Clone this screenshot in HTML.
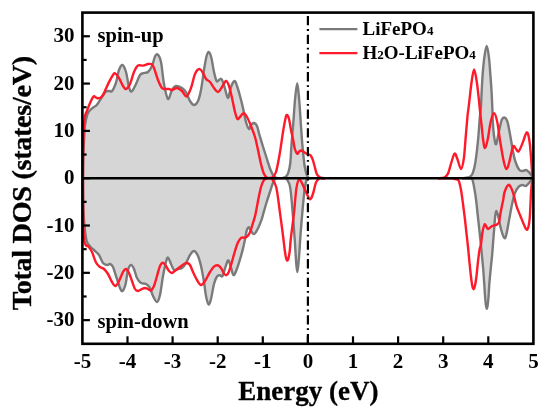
<!DOCTYPE html>
<html><head><meta charset="utf-8"><style>
html,body{margin:0;padding:0;background:#fff;}
svg{display:block;}
text{font-family:"Liberation Serif","Times New Roman",serif;font-weight:bold;fill:#000;}
</style></head><body>
<svg width="550" height="416" viewBox="0 0 550 416">
<rect x="0" y="0" width="550" height="416" fill="#fff"/>
<g>
<path d="M82.90,178.20 L82.90,178.20 C82.93,176.00 83.00,169.70 83.10,165.00 C83.20,160.30 83.32,154.67 83.50,150.00 C83.68,145.33 83.95,141.12 84.20,137.00 C84.45,132.88 84.47,129.07 85.00,125.30 C85.53,121.53 86.48,117.00 87.40,114.40 C88.32,111.80 89.47,110.88 90.50,109.70 C91.53,108.52 92.56,108.08 93.60,107.30 C94.64,106.52 95.70,106.17 96.75,105.00 C97.80,103.83 98.86,101.87 99.90,100.30 C100.94,98.73 101.98,97.07 103.00,95.60 C104.02,94.13 104.96,92.27 106.00,91.50 C107.04,90.73 108.32,91.00 109.25,91.00 C110.18,91.00 110.81,92.03 111.60,91.50 C112.39,90.97 113.22,89.45 114.00,87.80 C114.78,86.15 115.47,84.57 116.30,81.60 C117.13,78.63 117.98,72.77 119.00,70.00 C120.02,67.23 121.23,64.67 122.40,65.00 C123.57,65.33 124.90,68.33 126.00,72.00 C127.10,75.67 128.07,83.77 129.00,87.00 C129.93,90.23 130.43,91.90 131.60,91.40 C132.77,90.90 134.60,86.73 136.00,84.00 C137.40,81.27 138.67,76.83 140.00,75.00 C141.33,73.17 142.67,73.50 144.00,73.00 C145.33,72.50 146.67,73.17 148.00,72.00 C149.33,70.83 150.83,68.58 152.00,66.00 C153.17,63.42 154.03,58.40 155.00,56.50 C155.97,54.60 156.80,53.68 157.80,54.60 C158.80,55.52 159.97,57.10 161.00,62.00 C162.03,66.90 162.83,77.83 164.00,84.00 C165.17,90.17 166.67,98.00 168.00,99.00 C169.33,100.00 170.67,92.17 172.00,90.00 C173.33,87.83 174.33,86.33 176.00,86.00 C177.67,85.67 180.50,87.17 182.00,88.00 C183.50,88.83 184.17,90.00 185.00,91.00 C185.83,92.00 186.17,92.33 187.00,94.00 C187.83,95.67 188.83,99.17 190.00,101.00 C191.17,102.83 192.67,105.00 194.00,105.00 C195.33,105.00 196.83,103.50 198.00,101.00 C199.17,98.50 200.00,95.17 201.00,90.00 C202.00,84.83 203.07,75.67 204.00,70.00 C204.93,64.33 205.77,59.00 206.60,56.00 C207.43,53.00 208.20,51.67 209.00,52.00 C209.80,52.33 210.57,54.67 211.40,58.00 C212.23,61.33 213.13,68.17 214.00,72.00 C214.87,75.83 215.77,79.67 216.60,81.00 C217.43,82.33 218.20,80.33 219.00,80.00 C219.80,79.67 220.57,78.17 221.40,79.00 C222.23,79.83 223.07,82.17 224.00,85.00 C224.93,87.83 226.23,94.00 227.00,96.00 C227.77,98.00 227.93,98.50 228.60,97.00 C229.27,95.50 230.00,89.67 231.00,87.00 C232.00,84.33 233.60,81.17 234.60,81.00 C235.60,80.83 236.10,83.50 237.00,86.00 C237.90,88.50 239.00,92.33 240.00,96.00 C241.00,99.67 242.00,103.67 243.00,108.00 C244.00,112.33 245.00,118.50 246.00,122.00 C247.00,125.50 248.17,128.50 249.00,129.00 C249.83,129.50 250.17,126.00 251.00,125.00 C251.83,124.00 253.00,122.83 254.00,123.00 C255.00,123.17 256.13,124.17 257.00,126.00 C257.87,127.83 258.23,130.67 259.20,134.00 C260.17,137.33 261.57,142.00 262.80,146.00 C264.03,150.00 265.30,154.00 266.60,158.00 C267.90,162.00 269.37,166.92 270.60,170.00 C271.83,173.08 272.77,175.13 274.00,176.50 C275.23,177.87 276.33,178.02 278.00,178.20 C279.67,178.38 282.58,177.97 284.00,177.60 C285.42,177.23 285.75,176.93 286.50,176.00 C287.25,175.07 287.87,174.17 288.50,172.00 C289.13,169.83 289.78,167.80 290.30,163.00 C290.82,158.20 291.10,149.87 291.60,143.20 C292.10,136.53 292.73,130.20 293.30,123.00 C293.87,115.80 294.35,106.63 295.00,100.00 C295.65,93.37 296.50,83.20 297.20,83.20 C297.90,83.20 298.58,93.03 299.20,100.00 C299.82,106.97 300.40,117.80 300.90,125.00 C301.40,132.20 301.77,137.95 302.20,143.20 C302.63,148.45 303.07,152.53 303.50,156.50 C303.93,160.47 304.25,163.92 304.80,167.00 C305.35,170.08 306.13,173.17 306.80,175.00 C307.47,176.83 308.10,177.47 308.80,178.00 C309.50,178.53 310.63,178.17 311.00,178.20 L311.00,178.20 Z" fill="#d6d6d6" stroke="none"/>
<path d="M462.00,178.20 L462.00,178.20 C463.07,178.07 466.72,178.02 468.40,177.40 C470.08,176.78 471.02,176.57 472.10,174.50 C473.18,172.43 474.08,169.08 474.90,165.00 C475.72,160.92 476.40,155.00 477.00,150.00 C477.60,145.00 478.07,140.00 478.50,135.00 C478.93,130.00 479.20,124.62 479.60,120.00 C480.00,115.38 480.55,112.22 480.90,107.30 C481.25,102.38 481.40,96.10 481.70,90.50 C482.00,84.90 482.25,79.32 482.70,73.70 C483.15,68.08 483.73,61.43 484.40,56.80 C485.07,52.17 485.95,45.90 486.70,45.90 C487.45,45.90 488.30,52.17 488.90,56.80 C489.50,61.43 489.87,68.08 490.30,73.70 C490.73,79.32 491.17,84.90 491.50,90.50 C491.83,96.10 492.07,101.78 492.30,107.30 C492.53,112.82 492.55,118.42 492.90,123.60 C493.25,128.78 493.85,135.00 494.40,138.40 C494.95,141.80 495.43,145.23 496.20,144.00 C496.97,142.77 498.07,135.03 499.00,131.00 C499.93,126.97 500.87,122.03 501.80,119.80 C502.73,117.57 503.67,117.28 504.60,117.60 C505.53,117.92 506.48,118.85 507.40,121.70 C508.32,124.55 509.17,129.75 510.10,134.70 C511.03,139.65 512.07,146.77 513.00,151.40 C513.93,156.03 514.63,159.40 515.70,162.50 C516.77,165.60 518.17,168.60 519.40,170.00 C520.63,171.40 522.02,170.90 523.10,170.90 C524.18,170.90 524.97,169.85 525.90,170.00 C526.83,170.15 527.77,170.88 528.70,171.80 C529.63,172.72 530.72,174.43 531.50,175.50 C532.28,176.57 533.08,177.75 533.40,178.20 L533.40,178.20 Z" fill="#d6d6d6" stroke="none"/>
<path d="M82.90,178.20 L82.90,178.20 C82.93,181.00 83.00,189.37 83.10,195.00 C83.20,200.63 83.23,206.55 83.50,212.00 C83.77,217.45 84.17,222.87 84.70,227.70 C85.23,232.53 85.73,237.78 86.70,241.00 C87.67,244.22 89.28,245.50 90.50,247.00 C91.72,248.50 92.58,248.67 94.00,250.00 C95.42,251.33 97.50,252.83 99.00,255.00 C100.50,257.17 101.67,261.33 103.00,263.00 C104.33,264.67 105.83,264.83 107.00,265.00 C108.17,265.17 109.00,263.67 110.00,264.00 C111.00,264.33 112.00,265.00 113.00,267.00 C114.00,269.00 114.83,272.50 116.00,276.00 C117.17,279.50 118.90,285.50 120.00,288.00 C121.10,290.50 121.67,291.67 122.60,291.00 C123.53,290.33 124.70,287.50 125.60,284.00 C126.50,280.50 127.10,273.17 128.00,270.00 C128.90,266.83 130.00,265.17 131.00,265.00 C132.00,264.83 133.00,266.83 134.00,269.00 C135.00,271.17 135.83,275.67 137.00,278.00 C138.17,280.33 139.50,282.00 141.00,283.00 C142.50,284.00 144.50,283.17 146.00,284.00 C147.50,284.83 148.83,286.00 150.00,288.00 C151.17,290.00 151.83,293.67 153.00,296.00 C154.17,298.33 155.83,302.17 157.00,302.00 C158.17,301.83 159.00,299.33 160.00,295.00 C161.00,290.67 162.00,281.50 163.00,276.00 C164.00,270.50 165.17,265.08 166.00,262.00 C166.83,258.92 167.17,257.17 168.00,257.50 C168.83,257.83 170.00,261.92 171.00,264.00 C172.00,266.08 172.83,269.17 174.00,270.00 C175.17,270.83 176.67,269.33 178.00,269.00 C179.33,268.67 180.67,269.00 182.00,268.00 C183.33,267.00 184.67,265.17 186.00,263.00 C187.33,260.83 188.67,257.00 190.00,255.00 C191.33,253.00 192.67,250.83 194.00,251.00 C195.33,251.17 196.83,253.50 198.00,256.00 C199.17,258.50 200.00,261.67 201.00,266.00 C202.00,270.33 203.17,277.00 204.00,282.00 C204.83,287.00 205.23,292.27 206.00,296.00 C206.77,299.73 207.77,303.90 208.60,304.40 C209.43,304.90 210.10,302.40 211.00,299.00 C211.90,295.60 213.00,287.75 214.00,284.00 C215.00,280.25 216.00,277.95 217.00,276.50 C218.00,275.05 219.08,275.38 220.00,275.30 C220.92,275.22 221.57,277.45 222.50,276.00 C223.43,274.55 224.68,269.22 225.60,266.60 C226.52,263.98 227.22,260.57 228.00,260.30 C228.78,260.03 229.52,262.78 230.30,265.00 C231.08,267.22 232.05,271.97 232.70,273.60 C233.35,275.23 233.55,275.45 234.20,274.80 C234.85,274.15 235.68,272.12 236.60,269.70 C237.52,267.28 238.67,263.68 239.70,260.30 C240.73,256.92 241.88,253.05 242.80,249.40 C243.72,245.75 244.55,241.53 245.20,238.40 C245.85,235.27 246.10,232.47 246.70,230.60 C247.30,228.73 248.15,227.33 248.80,227.20 C249.45,227.07 249.90,228.70 250.60,229.80 C251.30,230.90 252.22,233.27 253.00,233.80 C253.78,234.33 254.40,234.05 255.30,233.00 C256.20,231.95 257.35,229.72 258.40,227.50 C259.45,225.28 260.80,221.95 261.60,219.70 C262.40,217.45 262.40,216.78 263.20,214.00 C264.00,211.22 265.33,206.50 266.40,203.00 C267.47,199.50 268.50,196.33 269.60,193.00 C270.70,189.67 271.93,185.40 273.00,183.00 C274.07,180.60 274.17,179.38 276.00,178.60 C277.83,177.82 282.17,178.15 284.00,178.30 C285.83,178.45 285.97,177.95 287.00,179.50 C288.03,181.05 289.25,182.03 290.20,187.60 C291.15,193.17 291.97,204.50 292.70,212.90 C293.43,221.30 294.13,231.48 294.60,238.00 C295.07,244.52 295.22,247.67 295.50,252.00 C295.78,256.33 296.00,260.67 296.30,264.00 C296.60,267.33 296.95,272.00 297.30,272.00 C297.65,272.00 298.05,267.33 298.40,264.00 C298.75,260.67 299.08,256.33 299.40,252.00 C299.72,247.67 299.82,244.52 300.30,238.00 C300.78,231.48 301.55,221.30 302.30,212.90 C303.05,204.50 304.02,193.25 304.80,187.60 C305.58,181.95 306.30,180.57 307.00,179.00 C307.70,177.43 308.67,178.33 309.00,178.20 L309.00,178.20 Z" fill="#d6d6d6" stroke="none"/>
<path d="M462.00,178.20 L462.00,178.20 C463.53,178.27 469.37,177.97 471.20,178.60 C473.03,179.23 472.45,180.20 473.00,182.00 C473.55,183.80 473.98,186.40 474.50,189.40 C475.02,192.40 475.60,196.07 476.10,200.00 C476.60,203.93 477.00,208.40 477.50,213.00 C478.00,217.60 478.60,222.93 479.10,227.60 C479.60,232.27 480.03,236.38 480.50,241.00 C480.97,245.62 481.45,250.63 481.90,255.30 C482.35,259.97 482.82,264.38 483.20,269.00 C483.58,273.62 483.88,278.33 484.20,283.00 C484.52,287.67 484.82,293.33 485.10,297.00 C485.38,300.67 485.62,303.03 485.90,305.00 C486.18,306.97 486.50,308.80 486.80,308.80 C487.10,308.80 487.42,306.97 487.70,305.00 C487.98,303.03 488.22,300.67 488.50,297.00 C488.78,293.33 489.03,287.67 489.40,283.00 C489.77,278.33 490.25,273.62 490.70,269.00 C491.15,264.38 491.68,259.97 492.10,255.30 C492.52,250.63 492.83,245.62 493.20,241.00 C493.57,236.38 493.97,231.77 494.30,227.60 C494.63,223.43 494.87,218.77 495.20,216.00 C495.53,213.23 495.82,211.05 496.30,211.00 C496.78,210.95 497.33,212.75 498.10,215.70 C498.87,218.65 499.87,224.98 500.90,228.70 C501.93,232.42 503.38,237.08 504.30,238.00 C505.22,238.92 505.58,237.30 506.40,234.20 C507.22,231.10 508.27,224.35 509.20,219.40 C510.13,214.45 511.07,208.83 512.00,204.50 C512.93,200.17 513.72,196.33 514.80,193.40 C515.88,190.47 517.27,188.30 518.50,186.90 C519.73,185.50 520.97,185.15 522.20,185.00 C523.43,184.85 524.67,186.45 525.90,186.00 C527.13,185.55 528.67,183.38 529.60,182.30 C530.53,181.22 530.87,180.18 531.50,179.50 C532.13,178.82 533.08,178.42 533.40,178.20 L533.40,178.20 Z" fill="#d6d6d6" stroke="none"/>
<path d="M82.90,178.20 C82.93,176.00 83.00,169.70 83.10,165.00 C83.20,160.30 83.32,154.67 83.50,150.00 C83.68,145.33 83.95,141.12 84.20,137.00 C84.45,132.88 84.47,129.07 85.00,125.30 C85.53,121.53 86.48,117.00 87.40,114.40 C88.32,111.80 89.47,110.88 90.50,109.70 C91.53,108.52 92.56,108.08 93.60,107.30 C94.64,106.52 95.70,106.17 96.75,105.00 C97.80,103.83 98.86,101.87 99.90,100.30 C100.94,98.73 101.98,97.07 103.00,95.60 C104.02,94.13 104.96,92.27 106.00,91.50 C107.04,90.73 108.32,91.00 109.25,91.00 C110.18,91.00 110.81,92.03 111.60,91.50 C112.39,90.97 113.22,89.45 114.00,87.80 C114.78,86.15 115.47,84.57 116.30,81.60 C117.13,78.63 117.98,72.77 119.00,70.00 C120.02,67.23 121.23,64.67 122.40,65.00 C123.57,65.33 124.90,68.33 126.00,72.00 C127.10,75.67 128.07,83.77 129.00,87.00 C129.93,90.23 130.43,91.90 131.60,91.40 C132.77,90.90 134.60,86.73 136.00,84.00 C137.40,81.27 138.67,76.83 140.00,75.00 C141.33,73.17 142.67,73.50 144.00,73.00 C145.33,72.50 146.67,73.17 148.00,72.00 C149.33,70.83 150.83,68.58 152.00,66.00 C153.17,63.42 154.03,58.40 155.00,56.50 C155.97,54.60 156.80,53.68 157.80,54.60 C158.80,55.52 159.97,57.10 161.00,62.00 C162.03,66.90 162.83,77.83 164.00,84.00 C165.17,90.17 166.67,98.00 168.00,99.00 C169.33,100.00 170.67,92.17 172.00,90.00 C173.33,87.83 174.33,86.33 176.00,86.00 C177.67,85.67 180.50,87.17 182.00,88.00 C183.50,88.83 184.17,90.00 185.00,91.00 C185.83,92.00 186.17,92.33 187.00,94.00 C187.83,95.67 188.83,99.17 190.00,101.00 C191.17,102.83 192.67,105.00 194.00,105.00 C195.33,105.00 196.83,103.50 198.00,101.00 C199.17,98.50 200.00,95.17 201.00,90.00 C202.00,84.83 203.07,75.67 204.00,70.00 C204.93,64.33 205.77,59.00 206.60,56.00 C207.43,53.00 208.20,51.67 209.00,52.00 C209.80,52.33 210.57,54.67 211.40,58.00 C212.23,61.33 213.13,68.17 214.00,72.00 C214.87,75.83 215.77,79.67 216.60,81.00 C217.43,82.33 218.20,80.33 219.00,80.00 C219.80,79.67 220.57,78.17 221.40,79.00 C222.23,79.83 223.07,82.17 224.00,85.00 C224.93,87.83 226.23,94.00 227.00,96.00 C227.77,98.00 227.93,98.50 228.60,97.00 C229.27,95.50 230.00,89.67 231.00,87.00 C232.00,84.33 233.60,81.17 234.60,81.00 C235.60,80.83 236.10,83.50 237.00,86.00 C237.90,88.50 239.00,92.33 240.00,96.00 C241.00,99.67 242.00,103.67 243.00,108.00 C244.00,112.33 245.00,118.50 246.00,122.00 C247.00,125.50 248.17,128.50 249.00,129.00 C249.83,129.50 250.17,126.00 251.00,125.00 C251.83,124.00 253.00,122.83 254.00,123.00 C255.00,123.17 256.13,124.17 257.00,126.00 C257.87,127.83 258.23,130.67 259.20,134.00 C260.17,137.33 261.57,142.00 262.80,146.00 C264.03,150.00 265.30,154.00 266.60,158.00 C267.90,162.00 269.37,166.92 270.60,170.00 C271.83,173.08 272.77,175.13 274.00,176.50 C275.23,177.87 276.33,178.02 278.00,178.20 C279.67,178.38 282.58,177.97 284.00,177.60 C285.42,177.23 285.75,176.93 286.50,176.00 C287.25,175.07 287.87,174.17 288.50,172.00 C289.13,169.83 289.78,167.80 290.30,163.00 C290.82,158.20 291.10,149.87 291.60,143.20 C292.10,136.53 292.73,130.20 293.30,123.00 C293.87,115.80 294.35,106.63 295.00,100.00 C295.65,93.37 296.50,83.20 297.20,83.20 C297.90,83.20 298.58,93.03 299.20,100.00 C299.82,106.97 300.40,117.80 300.90,125.00 C301.40,132.20 301.77,137.95 302.20,143.20 C302.63,148.45 303.07,152.53 303.50,156.50 C303.93,160.47 304.25,163.92 304.80,167.00 C305.35,170.08 306.13,173.17 306.80,175.00 C307.47,176.83 308.10,177.47 308.80,178.00 C309.50,178.53 310.63,178.17 311.00,178.20" fill="none" stroke="#7a7a7a" stroke-width="2.4" stroke-linejoin="round"/>
<path d="M462.00,178.20 C463.07,178.07 466.72,178.02 468.40,177.40 C470.08,176.78 471.02,176.57 472.10,174.50 C473.18,172.43 474.08,169.08 474.90,165.00 C475.72,160.92 476.40,155.00 477.00,150.00 C477.60,145.00 478.07,140.00 478.50,135.00 C478.93,130.00 479.20,124.62 479.60,120.00 C480.00,115.38 480.55,112.22 480.90,107.30 C481.25,102.38 481.40,96.10 481.70,90.50 C482.00,84.90 482.25,79.32 482.70,73.70 C483.15,68.08 483.73,61.43 484.40,56.80 C485.07,52.17 485.95,45.90 486.70,45.90 C487.45,45.90 488.30,52.17 488.90,56.80 C489.50,61.43 489.87,68.08 490.30,73.70 C490.73,79.32 491.17,84.90 491.50,90.50 C491.83,96.10 492.07,101.78 492.30,107.30 C492.53,112.82 492.55,118.42 492.90,123.60 C493.25,128.78 493.85,135.00 494.40,138.40 C494.95,141.80 495.43,145.23 496.20,144.00 C496.97,142.77 498.07,135.03 499.00,131.00 C499.93,126.97 500.87,122.03 501.80,119.80 C502.73,117.57 503.67,117.28 504.60,117.60 C505.53,117.92 506.48,118.85 507.40,121.70 C508.32,124.55 509.17,129.75 510.10,134.70 C511.03,139.65 512.07,146.77 513.00,151.40 C513.93,156.03 514.63,159.40 515.70,162.50 C516.77,165.60 518.17,168.60 519.40,170.00 C520.63,171.40 522.02,170.90 523.10,170.90 C524.18,170.90 524.97,169.85 525.90,170.00 C526.83,170.15 527.77,170.88 528.70,171.80 C529.63,172.72 530.72,174.43 531.50,175.50 C532.28,176.57 533.08,177.75 533.40,178.20" fill="none" stroke="#7a7a7a" stroke-width="2.4" stroke-linejoin="round"/>
<path d="M82.90,178.20 C82.93,181.00 83.00,189.37 83.10,195.00 C83.20,200.63 83.23,206.55 83.50,212.00 C83.77,217.45 84.17,222.87 84.70,227.70 C85.23,232.53 85.73,237.78 86.70,241.00 C87.67,244.22 89.28,245.50 90.50,247.00 C91.72,248.50 92.58,248.67 94.00,250.00 C95.42,251.33 97.50,252.83 99.00,255.00 C100.50,257.17 101.67,261.33 103.00,263.00 C104.33,264.67 105.83,264.83 107.00,265.00 C108.17,265.17 109.00,263.67 110.00,264.00 C111.00,264.33 112.00,265.00 113.00,267.00 C114.00,269.00 114.83,272.50 116.00,276.00 C117.17,279.50 118.90,285.50 120.00,288.00 C121.10,290.50 121.67,291.67 122.60,291.00 C123.53,290.33 124.70,287.50 125.60,284.00 C126.50,280.50 127.10,273.17 128.00,270.00 C128.90,266.83 130.00,265.17 131.00,265.00 C132.00,264.83 133.00,266.83 134.00,269.00 C135.00,271.17 135.83,275.67 137.00,278.00 C138.17,280.33 139.50,282.00 141.00,283.00 C142.50,284.00 144.50,283.17 146.00,284.00 C147.50,284.83 148.83,286.00 150.00,288.00 C151.17,290.00 151.83,293.67 153.00,296.00 C154.17,298.33 155.83,302.17 157.00,302.00 C158.17,301.83 159.00,299.33 160.00,295.00 C161.00,290.67 162.00,281.50 163.00,276.00 C164.00,270.50 165.17,265.08 166.00,262.00 C166.83,258.92 167.17,257.17 168.00,257.50 C168.83,257.83 170.00,261.92 171.00,264.00 C172.00,266.08 172.83,269.17 174.00,270.00 C175.17,270.83 176.67,269.33 178.00,269.00 C179.33,268.67 180.67,269.00 182.00,268.00 C183.33,267.00 184.67,265.17 186.00,263.00 C187.33,260.83 188.67,257.00 190.00,255.00 C191.33,253.00 192.67,250.83 194.00,251.00 C195.33,251.17 196.83,253.50 198.00,256.00 C199.17,258.50 200.00,261.67 201.00,266.00 C202.00,270.33 203.17,277.00 204.00,282.00 C204.83,287.00 205.23,292.27 206.00,296.00 C206.77,299.73 207.77,303.90 208.60,304.40 C209.43,304.90 210.10,302.40 211.00,299.00 C211.90,295.60 213.00,287.75 214.00,284.00 C215.00,280.25 216.00,277.95 217.00,276.50 C218.00,275.05 219.08,275.38 220.00,275.30 C220.92,275.22 221.57,277.45 222.50,276.00 C223.43,274.55 224.68,269.22 225.60,266.60 C226.52,263.98 227.22,260.57 228.00,260.30 C228.78,260.03 229.52,262.78 230.30,265.00 C231.08,267.22 232.05,271.97 232.70,273.60 C233.35,275.23 233.55,275.45 234.20,274.80 C234.85,274.15 235.68,272.12 236.60,269.70 C237.52,267.28 238.67,263.68 239.70,260.30 C240.73,256.92 241.88,253.05 242.80,249.40 C243.72,245.75 244.55,241.53 245.20,238.40 C245.85,235.27 246.10,232.47 246.70,230.60 C247.30,228.73 248.15,227.33 248.80,227.20 C249.45,227.07 249.90,228.70 250.60,229.80 C251.30,230.90 252.22,233.27 253.00,233.80 C253.78,234.33 254.40,234.05 255.30,233.00 C256.20,231.95 257.35,229.72 258.40,227.50 C259.45,225.28 260.80,221.95 261.60,219.70 C262.40,217.45 262.40,216.78 263.20,214.00 C264.00,211.22 265.33,206.50 266.40,203.00 C267.47,199.50 268.50,196.33 269.60,193.00 C270.70,189.67 271.93,185.40 273.00,183.00 C274.07,180.60 274.17,179.38 276.00,178.60 C277.83,177.82 282.17,178.15 284.00,178.30 C285.83,178.45 285.97,177.95 287.00,179.50 C288.03,181.05 289.25,182.03 290.20,187.60 C291.15,193.17 291.97,204.50 292.70,212.90 C293.43,221.30 294.13,231.48 294.60,238.00 C295.07,244.52 295.22,247.67 295.50,252.00 C295.78,256.33 296.00,260.67 296.30,264.00 C296.60,267.33 296.95,272.00 297.30,272.00 C297.65,272.00 298.05,267.33 298.40,264.00 C298.75,260.67 299.08,256.33 299.40,252.00 C299.72,247.67 299.82,244.52 300.30,238.00 C300.78,231.48 301.55,221.30 302.30,212.90 C303.05,204.50 304.02,193.25 304.80,187.60 C305.58,181.95 306.30,180.57 307.00,179.00 C307.70,177.43 308.67,178.33 309.00,178.20" fill="none" stroke="#7a7a7a" stroke-width="2.4" stroke-linejoin="round"/>
<path d="M462.00,178.20 C463.53,178.27 469.37,177.97 471.20,178.60 C473.03,179.23 472.45,180.20 473.00,182.00 C473.55,183.80 473.98,186.40 474.50,189.40 C475.02,192.40 475.60,196.07 476.10,200.00 C476.60,203.93 477.00,208.40 477.50,213.00 C478.00,217.60 478.60,222.93 479.10,227.60 C479.60,232.27 480.03,236.38 480.50,241.00 C480.97,245.62 481.45,250.63 481.90,255.30 C482.35,259.97 482.82,264.38 483.20,269.00 C483.58,273.62 483.88,278.33 484.20,283.00 C484.52,287.67 484.82,293.33 485.10,297.00 C485.38,300.67 485.62,303.03 485.90,305.00 C486.18,306.97 486.50,308.80 486.80,308.80 C487.10,308.80 487.42,306.97 487.70,305.00 C487.98,303.03 488.22,300.67 488.50,297.00 C488.78,293.33 489.03,287.67 489.40,283.00 C489.77,278.33 490.25,273.62 490.70,269.00 C491.15,264.38 491.68,259.97 492.10,255.30 C492.52,250.63 492.83,245.62 493.20,241.00 C493.57,236.38 493.97,231.77 494.30,227.60 C494.63,223.43 494.87,218.77 495.20,216.00 C495.53,213.23 495.82,211.05 496.30,211.00 C496.78,210.95 497.33,212.75 498.10,215.70 C498.87,218.65 499.87,224.98 500.90,228.70 C501.93,232.42 503.38,237.08 504.30,238.00 C505.22,238.92 505.58,237.30 506.40,234.20 C507.22,231.10 508.27,224.35 509.20,219.40 C510.13,214.45 511.07,208.83 512.00,204.50 C512.93,200.17 513.72,196.33 514.80,193.40 C515.88,190.47 517.27,188.30 518.50,186.90 C519.73,185.50 520.97,185.15 522.20,185.00 C523.43,184.85 524.67,186.45 525.90,186.00 C527.13,185.55 528.67,183.38 529.60,182.30 C530.53,181.22 530.87,180.18 531.50,179.50 C532.13,178.82 533.08,178.42 533.40,178.20" fill="none" stroke="#7a7a7a" stroke-width="2.4" stroke-linejoin="round"/>
<path d="M83.00,178.20 C83.02,175.17 83.03,165.95 83.10,160.00 C83.17,154.05 83.25,148.54 83.40,142.50 C83.55,136.46 83.73,128.17 84.00,123.75 C84.27,119.33 84.43,118.34 85.00,116.00 C85.57,113.66 86.48,112.05 87.40,109.70 C88.32,107.35 89.47,104.12 90.50,101.90 C91.53,99.68 92.56,97.05 93.60,96.40 C94.64,95.75 95.70,97.73 96.75,98.00 C97.80,98.27 98.86,98.53 99.90,98.00 C100.94,97.47 101.98,96.37 103.00,94.80 C104.02,93.23 104.96,90.80 106.00,88.60 C107.04,86.40 108.08,83.87 109.25,81.60 C110.42,79.33 112.04,76.37 113.00,75.00 C113.96,73.63 114.00,72.90 115.00,73.40 C116.00,73.90 117.67,75.90 119.00,78.00 C120.33,80.10 121.83,84.17 123.00,86.00 C124.17,87.83 124.83,89.33 126.00,89.00 C127.17,88.67 128.67,86.83 130.00,84.00 C131.33,81.17 132.67,75.07 134.00,72.00 C135.33,68.93 136.50,66.67 138.00,65.60 C139.50,64.53 141.33,65.87 143.00,65.60 C144.67,65.33 146.53,64.22 148.00,64.00 C149.47,63.78 150.80,63.63 151.80,64.30 C152.80,64.97 152.97,65.38 154.00,68.00 C155.03,70.62 156.67,76.67 158.00,80.00 C159.33,83.33 160.83,86.50 162.00,88.00 C163.17,89.50 163.83,88.83 165.00,89.00 C166.17,89.17 167.83,88.83 169.00,89.00 C170.17,89.17 170.67,90.17 172.00,90.00 C173.33,89.83 175.33,87.83 177.00,88.00 C178.67,88.17 180.42,89.58 182.00,91.00 C183.58,92.42 185.00,97.00 186.50,96.50 C188.00,96.00 189.58,91.75 191.00,88.00 C192.42,84.25 193.60,77.17 195.00,74.00 C196.40,70.83 198.07,69.17 199.40,69.00 C200.73,68.83 201.90,71.33 203.00,73.00 C204.10,74.67 204.83,77.50 206.00,79.00 C207.17,80.50 208.67,80.50 210.00,82.00 C211.33,83.50 212.67,86.33 214.00,88.00 C215.33,89.67 216.67,92.17 218.00,92.00 C219.33,91.83 220.67,88.83 222.00,87.00 C223.33,85.17 224.83,81.17 226.00,81.00 C227.17,80.83 228.00,83.17 229.00,86.00 C230.00,88.83 231.00,93.67 232.00,98.00 C233.00,102.33 234.10,108.50 235.00,112.00 C235.90,115.50 236.57,118.17 237.40,119.00 C238.23,119.83 238.98,117.95 240.00,117.00 C241.02,116.05 242.33,113.30 243.50,113.30 C244.67,113.30 245.75,114.88 247.00,117.00 C248.25,119.12 249.67,122.67 251.00,126.00 C252.33,129.33 253.83,133.00 255.00,137.00 C256.17,141.00 257.00,145.50 258.00,150.00 C259.00,154.50 260.00,160.00 261.00,164.00 C262.00,168.00 263.00,171.75 264.00,174.00 C265.00,176.25 265.67,176.92 267.00,177.50 C268.33,178.08 270.50,178.42 272.00,177.50 C273.50,176.58 274.67,176.25 276.00,172.00 C277.33,167.75 278.83,158.67 280.00,152.00 C281.17,145.33 282.07,137.67 283.00,132.00 C283.93,126.33 284.93,120.83 285.60,118.00 C286.27,115.17 286.43,114.83 287.00,115.00 C287.57,115.17 288.33,116.50 289.00,119.00 C289.67,121.50 290.33,126.62 291.00,130.00 C291.67,133.38 292.35,136.10 293.00,139.30 C293.65,142.50 294.20,146.78 294.90,149.20 C295.60,151.62 296.53,153.37 297.20,153.80 C297.87,154.23 298.25,152.35 298.90,151.80 C299.55,151.25 300.33,150.50 301.10,150.50 C301.87,150.50 302.65,151.30 303.50,151.80 C304.35,152.30 305.32,153.05 306.20,153.50 C307.08,153.95 308.03,154.12 308.80,154.50 C309.57,154.88 310.13,154.92 310.80,155.80 C311.47,156.68 312.13,157.93 312.80,159.80 C313.47,161.67 314.15,164.68 314.80,167.00 C315.45,169.32 315.93,172.03 316.70,173.70 C317.47,175.37 318.52,176.28 319.40,177.00 C320.28,177.72 321.07,177.80 322.00,178.00 C322.93,178.20 324.50,178.17 325.00,178.20" fill="none" stroke="#ff1a2a" stroke-width="2.4" stroke-linejoin="round"/>
<path d="M438.00,178.20 C439.05,178.08 442.63,178.27 444.30,177.50 C445.97,176.73 446.92,175.78 448.00,173.60 C449.08,171.42 449.72,167.73 450.80,164.40 C451.88,161.07 453.42,154.53 454.50,153.60 C455.58,152.67 456.22,156.23 457.30,158.80 C458.38,161.37 459.92,169.00 461.00,169.00 C462.08,169.00 463.03,163.90 463.80,158.80 C464.57,153.70 464.98,145.53 465.60,138.40 C466.22,131.27 467.03,120.90 467.50,116.00 C467.97,111.10 468.05,111.85 468.40,109.00 C468.75,106.15 469.07,103.40 469.60,98.90 C470.13,94.40 470.85,86.90 471.60,82.00 C472.35,77.10 473.23,69.50 474.10,69.50 C474.97,69.50 476.02,77.10 476.80,82.00 C477.58,86.90 478.30,94.40 478.80,98.90 C479.30,103.40 479.37,104.88 479.80,109.00 C480.23,113.12 480.83,118.38 481.40,123.60 C481.97,128.82 482.58,136.23 483.20,140.30 C483.82,144.37 484.32,148.32 485.10,148.00 C485.88,147.68 486.97,142.78 487.90,138.40 C488.83,134.02 489.68,125.88 490.70,121.70 C491.72,117.52 492.92,113.30 494.00,113.30 C495.08,113.30 496.20,117.20 497.20,121.70 C498.20,126.20 498.93,133.80 500.00,140.30 C501.07,146.80 502.53,155.92 503.60,160.70 C504.67,165.48 505.47,168.70 506.40,169.00 C507.33,169.30 508.10,166.22 509.20,162.50 C510.30,158.78 511.92,149.02 513.00,146.70 C514.08,144.38 514.78,147.82 515.70,148.60 C516.62,149.38 517.42,152.17 518.50,151.40 C519.58,150.63 520.82,147.15 522.20,144.00 C523.58,140.85 525.57,132.83 526.80,132.50 C528.03,132.17 528.82,136.75 529.60,142.00 C530.38,147.25 531.03,158.17 531.50,164.00 C531.97,169.83 532.08,174.63 532.40,177.00 C532.72,179.37 533.23,178.00 533.40,178.20" fill="none" stroke="#ff1a2a" stroke-width="2.4" stroke-linejoin="round"/>
<path d="M83.00,178.20 C83.02,181.83 83.03,192.20 83.10,200.00 C83.17,207.80 83.25,218.67 83.40,225.00 C83.55,231.33 83.73,234.92 84.00,238.00 C84.27,241.08 84.55,242.17 85.00,243.50 C85.45,244.83 86.20,245.58 86.70,246.00 C87.20,246.42 87.12,245.00 88.00,246.00 C88.88,247.00 90.67,249.25 92.00,252.00 C93.33,254.75 94.67,260.00 96.00,262.50 C97.33,265.00 98.67,265.92 100.00,267.00 C101.33,268.08 102.67,267.83 104.00,269.00 C105.33,270.17 106.67,271.83 108.00,274.00 C109.33,276.17 110.73,280.00 112.00,282.00 C113.27,284.00 114.43,286.17 115.60,286.00 C116.77,285.83 117.77,283.33 119.00,281.00 C120.23,278.67 121.83,274.00 123.00,272.00 C124.17,270.00 125.00,268.83 126.00,269.00 C127.00,269.17 128.00,271.00 129.00,273.00 C130.00,275.00 131.00,278.33 132.00,281.00 C133.00,283.67 134.00,287.33 135.00,289.00 C136.00,290.67 136.83,291.00 138.00,291.00 C139.17,291.00 140.83,289.50 142.00,289.00 C143.17,288.50 144.00,288.00 145.00,288.00 C146.00,288.00 147.00,288.60 148.00,289.00 C149.00,289.40 150.00,290.90 151.00,290.40 C152.00,289.90 153.00,288.40 154.00,286.00 C155.00,283.60 156.00,279.33 157.00,276.00 C158.00,272.67 159.00,268.20 160.00,266.00 C161.00,263.80 162.00,262.80 163.00,262.80 C164.00,262.80 165.00,264.63 166.00,266.00 C167.00,267.37 168.00,269.83 169.00,271.00 C170.00,272.17 170.83,273.17 172.00,273.00 C173.17,272.83 174.67,271.00 176.00,270.00 C177.33,269.00 178.67,268.00 180.00,267.00 C181.33,266.00 182.83,264.67 184.00,264.00 C185.17,263.33 186.00,262.83 187.00,263.00 C188.00,263.17 189.00,263.50 190.00,265.00 C191.00,266.50 191.83,269.50 193.00,272.00 C194.17,274.50 195.67,277.83 197.00,280.00 C198.33,282.17 199.67,284.83 201.00,285.00 C202.33,285.17 203.50,283.17 205.00,281.00 C206.50,278.83 208.52,274.40 210.00,272.00 C211.48,269.60 212.60,267.72 213.90,266.60 C215.20,265.48 216.62,265.07 217.80,265.30 C218.98,265.53 219.97,266.62 221.00,268.00 C222.03,269.38 223.10,272.40 224.00,273.60 C224.90,274.80 225.60,275.47 226.40,275.20 C227.20,274.93 227.88,274.22 228.80,272.00 C229.72,269.78 230.87,265.40 231.90,261.90 C232.93,258.40 233.98,254.27 235.00,251.00 C236.02,247.73 236.95,244.52 238.00,242.30 C239.05,240.08 240.10,238.47 241.30,237.70 C242.50,236.93 244.03,238.10 245.20,237.70 C246.37,237.30 247.40,236.48 248.30,235.30 C249.20,234.12 249.82,232.68 250.60,230.60 C251.38,228.52 252.22,225.40 253.00,222.80 C253.78,220.20 254.47,218.63 255.30,215.00 C256.13,211.37 257.05,205.67 258.00,201.00 C258.95,196.33 260.00,190.50 261.00,187.00 C262.00,183.50 262.83,181.45 264.00,180.00 C265.17,178.55 266.67,178.47 268.00,178.30 C269.33,178.13 270.62,177.45 272.00,179.00 C273.38,180.55 274.97,181.95 276.30,187.60 C277.63,193.25 278.83,204.50 280.00,212.90 C281.17,221.30 282.50,231.73 283.30,238.00 C284.10,244.27 284.35,247.23 284.80,250.50 C285.25,253.77 285.58,255.92 286.00,257.60 C286.42,259.28 286.87,260.60 287.30,260.60 C287.73,260.60 288.18,259.28 288.60,257.60 C289.02,255.92 289.42,253.77 289.80,250.50 C290.18,247.23 290.20,244.27 290.90,238.00 C291.60,231.73 293.07,221.30 294.00,212.90 C294.93,204.50 295.58,193.17 296.50,187.60 C297.42,182.03 298.25,179.50 299.50,179.50 C300.75,179.50 302.32,184.35 304.00,187.60 C305.68,190.85 308.12,197.93 309.60,199.00 C311.08,200.07 311.85,196.73 312.90,194.00 C313.95,191.27 314.85,185.17 315.90,182.60 C316.95,180.03 318.18,179.33 319.20,178.60 C320.22,177.87 321.03,178.27 322.00,178.20 C322.97,178.13 324.50,178.20 325.00,178.20" fill="none" stroke="#ff1a2a" stroke-width="2.4" stroke-linejoin="round"/>
<path d="M438.00,178.20 C440.33,178.23 449.08,178.23 452.00,178.40 C454.92,178.57 454.38,178.80 455.50,179.20 C456.62,179.60 457.78,179.00 458.70,180.80 C459.62,182.60 460.28,186.17 461.00,190.00 C461.72,193.83 462.37,199.13 463.00,203.80 C463.63,208.47 464.23,213.18 464.80,218.00 C465.37,222.82 465.87,227.87 466.40,232.70 C466.93,237.53 467.50,242.20 468.00,247.00 C468.50,251.80 468.92,256.67 469.40,261.50 C469.88,266.33 470.43,272.00 470.90,276.00 C471.37,280.00 471.75,283.30 472.20,285.50 C472.65,287.70 473.13,289.20 473.60,289.20 C474.07,289.20 474.52,287.70 475.00,285.50 C475.48,283.30 476.00,280.00 476.50,276.00 C477.00,272.00 477.50,265.83 478.00,261.50 C478.50,257.17 479.00,252.88 479.50,250.00 C480.00,247.12 480.50,247.20 481.00,244.20 C481.50,241.20 481.90,235.28 482.50,232.00 C483.10,228.72 484.02,225.50 484.60,224.50 C485.18,223.50 485.43,225.25 486.00,226.00 C486.57,226.75 487.22,228.83 488.00,229.00 C488.78,229.17 489.80,227.58 490.70,227.00 C491.60,226.42 492.47,225.85 493.40,225.50 C494.33,225.15 495.37,225.45 496.30,224.90 C497.23,224.35 498.32,224.05 499.00,222.20 C499.68,220.35 499.93,216.43 500.40,213.80 C500.87,211.17 501.33,208.70 501.80,206.40 C502.27,204.10 502.73,202.40 503.20,200.00 C503.67,197.60 503.75,194.50 504.60,192.00 C505.45,189.50 507.22,185.70 508.30,185.00 C509.38,184.30 510.18,186.08 511.10,187.80 C512.02,189.52 512.88,192.20 513.80,195.30 C514.72,198.40 515.52,203.00 516.60,206.40 C517.68,209.80 519.05,212.60 520.30,215.70 C521.55,218.80 522.95,222.68 524.10,225.00 C525.25,227.32 526.28,230.53 527.20,229.60 C528.12,228.67 528.95,225.73 529.60,219.40 C530.25,213.07 530.63,198.25 531.10,191.60 C531.57,184.95 532.02,181.73 532.40,179.50 C532.78,177.27 533.23,178.42 533.40,178.20" fill="none" stroke="#ff1a2a" stroke-width="2.4" stroke-linejoin="round"/>
</g>
<line x1="82.4" y1="178.2" x2="533.4" y2="178.2" stroke="#000" stroke-width="2.6"/>
<line x1="307.9" y1="16" x2="307.9" y2="343.8" stroke="#000" stroke-width="2.2" stroke-dasharray="9.3 3.8 1.8 3.8"/>
<g stroke="#000" stroke-width="2.2">
<line x1="82.40" y1="320.14" x2="89.90" y2="320.14"/>
<line x1="82.40" y1="272.83" x2="89.90" y2="272.83"/>
<line x1="82.40" y1="225.51" x2="89.90" y2="225.51"/>
<line x1="82.40" y1="178.20" x2="89.90" y2="178.20"/>
<line x1="82.40" y1="130.89" x2="89.90" y2="130.89"/>
<line x1="82.40" y1="83.57" x2="89.90" y2="83.57"/>
<line x1="82.40" y1="36.26" x2="89.90" y2="36.26"/>
<line x1="82.40" y1="296.49" x2="86.60" y2="296.49"/>
<line x1="82.40" y1="249.17" x2="86.60" y2="249.17"/>
<line x1="82.40" y1="201.86" x2="86.60" y2="201.86"/>
<line x1="82.40" y1="154.54" x2="86.60" y2="154.54"/>
<line x1="82.40" y1="107.23" x2="86.60" y2="107.23"/>
<line x1="82.40" y1="59.91" x2="86.60" y2="59.91"/>
<line x1="127.50" y1="343.80" x2="127.50" y2="336.30"/>
<line x1="172.60" y1="343.80" x2="172.60" y2="336.30"/>
<line x1="217.70" y1="343.80" x2="217.70" y2="336.30"/>
<line x1="262.80" y1="343.80" x2="262.80" y2="336.30"/>
<line x1="307.90" y1="343.80" x2="307.90" y2="336.30"/>
<line x1="353.00" y1="343.80" x2="353.00" y2="336.30"/>
<line x1="398.10" y1="343.80" x2="398.10" y2="336.30"/>
<line x1="443.20" y1="343.80" x2="443.20" y2="336.30"/>
<line x1="488.30" y1="343.80" x2="488.30" y2="336.30"/>
</g>
<rect x="82.4" y="12.6" width="451.00" height="331.20" fill="none" stroke="#000" stroke-width="2.6"/>
<g font-size="21">
<text x="74.5" y="326.14" text-anchor="end" font-size="21">-30</text>
<text x="74.5" y="278.83" text-anchor="end" font-size="21">-20</text>
<text x="74.5" y="231.51" text-anchor="end" font-size="21">-10</text>
<text x="74.5" y="184.20" text-anchor="end" font-size="21">0</text>
<text x="74.5" y="136.89" text-anchor="end" font-size="21">10</text>
<text x="74.5" y="89.57" text-anchor="end" font-size="21">20</text>
<text x="74.5" y="42.26" text-anchor="end" font-size="21">30</text>
<text x="82.40" y="367.5" text-anchor="middle">-5</text>
<text x="127.50" y="367.5" text-anchor="middle">-4</text>
<text x="172.60" y="367.5" text-anchor="middle">-3</text>
<text x="217.70" y="367.5" text-anchor="middle">-2</text>
<text x="262.80" y="367.5" text-anchor="middle">-1</text>
<text x="307.90" y="367.5" text-anchor="middle">0</text>
<text x="353.00" y="367.5" text-anchor="middle">1</text>
<text x="398.10" y="367.5" text-anchor="middle">2</text>
<text x="443.20" y="367.5" text-anchor="middle">3</text>
<text x="488.30" y="367.5" text-anchor="middle">4</text>
<text x="533.40" y="367.5" text-anchor="middle">5</text>
</g>
<line x1="319.4" y1="29.1" x2="357.4" y2="29.1" stroke="#7a7a7a" stroke-width="2.4"/>
<line x1="319.4" y1="53.1" x2="357.4" y2="53.1" stroke="#ff1a2a" stroke-width="2.4"/>
<text x="362.5" y="35" font-size="19">LiFePO<tspan font-size="13">4</tspan></text>
<text x="362.5" y="58.8" font-size="19">H<tspan font-size="13">2</tspan>O-LiFePO<tspan font-size="13">4</tspan></text>
<text x="97.5" y="41.8" font-size="20.5">spin-up</text>
<text x="97.5" y="327.5" font-size="20.5">spin-down</text>
<text x="308.3" y="400" font-size="27" text-anchor="middle" stroke="#000" stroke-width="0.3">Energy (eV)</text>
<text transform="translate(30.9,183.2) rotate(-90)" font-size="28.2" letter-spacing="-0.3" text-anchor="middle" stroke="#000" stroke-width="0.35">Total DOS (states/eV)</text>
</svg>
</body></html>
